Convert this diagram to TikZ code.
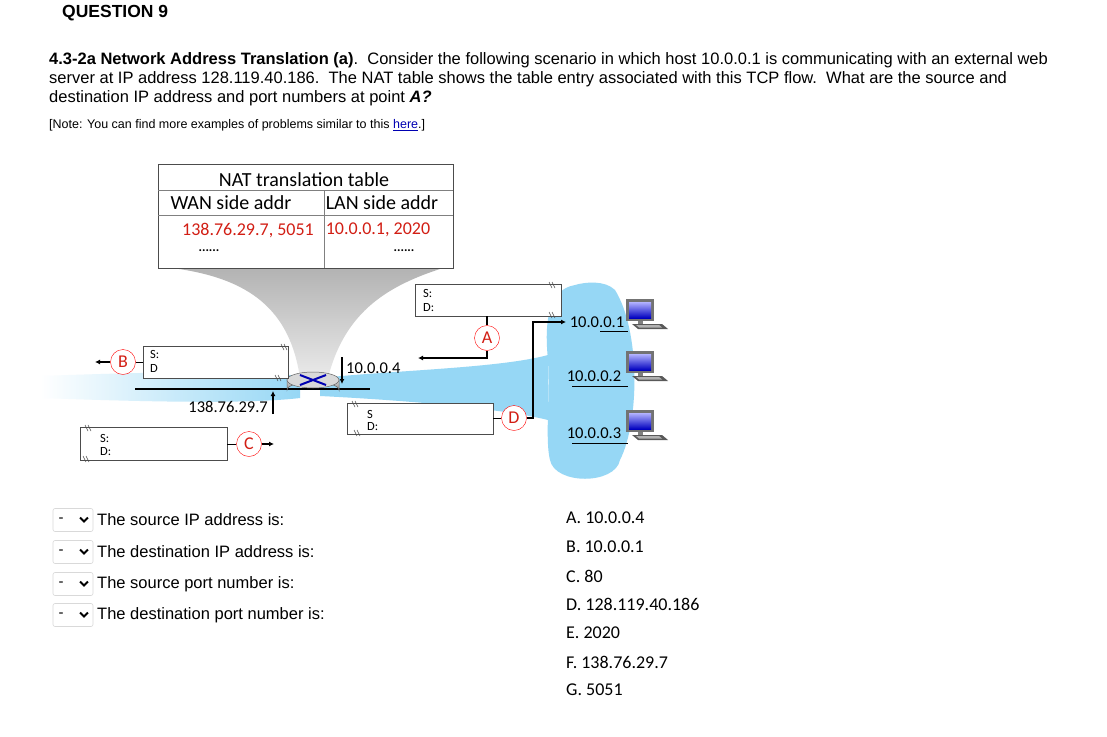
\documentclass[tikz,border=0pt]{standalone}
\usepackage{fontspec}
\setmainfont{Liberation Sans}
\newfontfamily\calfont{Carlito}
\usetikzlibrary{arrows.meta,shapes.geometric,calc}
\definecolor{natred}{RGB}{210,30,20}
\definecolor{lanblue}{RGB}{150,215,245}
\tikzset{
  pkt/.style={draw=black!70,line width=0.6pt,fill=white},
  lbl/.style={font=\calfont\fontsize{12.5}{13}\selectfont,anchor=west,inner sep=0pt},
  circ/.style={circle,draw=red,fill=white,text=natred,font=\calfont\fontsize{18}{18}\selectfont,minimum size=25pt,inner sep=0pt},
  wire/.style={line width=1.6pt},
  arr/.style={line width=1.6pt,-{Latex[length=5pt,width=5pt]}},
  ip/.style={font=\calfont\fontsize{16.5}{18}\selectfont,inner sep=1pt},
  qtxt/.style={font=\fontsize{16.5}{18}\selectfont,anchor=west,inner sep=0pt},
  ans/.style={font=\calfont\fontsize{18}{19}\selectfont,anchor=west,inner sep=0pt},
  sel/.style={draw=black!15,rounded corners=2pt,line width=0.6pt,minimum width=40pt,minimum height=23pt},
  para/.style={anchor=west,inner sep=0pt,font=\fontsize{16.5}{18}\selectfont},
  tab/.style={font=\calfont\fontsize{20}{21}\selectfont},
}
\newcommand{\brk}[1]{\draw[black!70,line width=0.5pt] ($(#1)+(-3,-3)$)--($(#1)+(0,3)$) ($(#1)+(0,-3)$)--($(#1)+(3,3)$);}
\newcommand{\pcicon}[1]{%
 \begin{scope}[shift={(#1)}]
  \fill[black!55] (-14,-16) rectangle (14,6);
  \shade[top color=blue!30,bottom color=blue!75!black] (-11,-13) rectangle (11,3);
  \fill[black!50] (-2,6) rectangle (3,10);
  \fill[black!65] (-8,9) -- (22,9) -- (28,14) -- (-2,14) -- cycle;
  \fill[black!30] (-4,10) -- (19,10) -- (22,12.5) -- (-1,12.5) -- cycle;
 \end{scope}}
\begin{document}
\begin{tikzpicture}[x=1pt,y=-1pt]
\useasboundingbox (0,0) rectangle (1107,736);
\fill[white] (0,0) rectangle (1107,736);
% header text
\node[anchor=west,inner sep=0pt,font=\bfseries\fontsize{17.5}{19}\selectfont] (qt) at (62,13) {QUESTION 9};
\node[para] (p1) at (49,60) {\textbf{4.3-2a Network Address Translation (a)}.\ \ Consider the following scenario in which host 10.0.0.1 is communicating with an external web};
\node[para] (p2) at (49,79) {server at IP address 128.119.40.186.\ \ The NAT table shows the table entry associated with this TCP flow.\ \ What are the source and};
\node[para] (p3) at (49,98) {destination IP address and port numbers at point \textbf{\textit{A?}}};
\node[anchor=west,inner sep=0pt,font=\fontsize{12.5}{13}\selectfont] (p4) at (49,125) {[Note: You can find more examples of problems similar to this \textcolor{blue!70!black}{\underline{here}}.]};
% gray funnel
\shade[top color=black!30,bottom color=black!8] (172,268) .. controls (250,278) and (290,310) .. (300,378) -- (328,378) .. controls (345,310) and (390,285) .. (443,268) -- cycle;
% blue regions
\shade[left color=white,right color=lanblue] (40,376) .. controls (150,372) and (250,370) .. (300,376) -- (300,398) .. controls (250,404) and (150,402) .. (40,398) -- cycle;
\fill[lanblue] (320,378) .. controls (400,370) and (500,368) .. (548,355) -- (548,420) .. controls (500,408) and (400,400) .. (320,396) -- cycle;
\fill[lanblue] (575,285) .. controls (545,290) and (545,330) .. (548,360) .. controls (550,400) and (545,440) .. (550,460) .. controls (555,485) and (615,485) .. (620,460) .. controls (640,420) and (640,330) .. (615,290) .. controls (605,280) and (585,282) .. (575,285) -- cycle;
% NAT table
\draw[black!70,line width=0.6pt,fill=white] (158,164) rectangle (453,268);
\draw[black!50,line width=0.5pt] (158,190) -- (453,190) (158,215) -- (453,215) (324,190) -- (324,268);
\node[tab] (tt) at (304,180) {NAT translation table};
\node[tab] (wan) at (231,203) {WAN side addr};
\node[tab] (lan) at (382,203) {LAN side addr};
\node[font=\calfont\fontsize{18}{19}\selectfont,text=natred] (r1) at (248,230) {138.76.29.7, 5051};
\node[font=\calfont\fontsize{18}{19}\selectfont,text=natred] (r2) at (378,230) {10.0.0.1, 2020};
\node[font=\calfont\bfseries\fontsize{13}{14}\selectfont] (d1) at (209,251) {......};
\node[font=\calfont\bfseries\fontsize{13}{14}\selectfont] (d2) at (404,251) {......};
% main wire
\draw[wire] (135,389) -- (370,389);
% router
\shade[bottom color=black!45,top color=black!15] (287,380) -- (287,390) arc[start angle=180,end angle=360,x radius=26,y radius=8] -- (339,380) -- cycle;
\draw[black!60,line width=0.5pt] (287,380) -- (287,390) arc[start angle=180,end angle=360,x radius=26,y radius=8] -- (339,380);
\draw[black!60,fill=black!15,line width=0.5pt] (313,380) ellipse[x radius=26,y radius=8];
\draw[blue!70!black,line width=2pt] (300,375) -- (326,385) (326,375) -- (300,385);
\coordinate (rt) at (313,385);
% box B
\draw[pkt] (143,346) rectangle (288,378);
\brk{284,347}\brk{278,378}
\node[lbl] (bs) at (150,354) {S:};
\node[lbl] (bd) at (150,368) {D};
\node[circ] (cb) at (123,362) {B};
\coordinate (be) at (95,362);
\draw[line width=0.8pt] (143,362) -- (cb);
\draw[arr] (cb) -- (be);
% 138.76.29.7
\node[ip,anchor=east] (wip) at (269,407) {138.76.29.7};
\coordinate (wa) at (273,414); \coordinate (wb) at (273,391);
\draw[arr] (wa) -- (wb);
% box C
\draw[pkt] (80,427) rectangle (227,460);
\brk{88,428}\brk{86,459}
\node[lbl] (cs) at (100,438) {S:};
\node[lbl] (cd) at (100,452) {D:};
\node[circ] (cc) at (249,444) {C};
\coordinate (ce) at (274,444);
\draw[line width=0.8pt] (227,444) -- (cc);
\draw[arr] (cc) -- (ce);
% 10.0.0.4
\node[ip,anchor=west] (lip) at (345,368) {10.0.0.4};
\coordinate (la) at (342,357); \coordinate (lb) at (342,384);
\draw[arr] (la) -- (lb);
% box lower right
\draw[pkt] (347,403) rectangle (493,434);
\brk{355,404}\brk{357,433}
\node[lbl] (ls) at (367,414) {S};
\node[lbl] (ld) at (367,427) {D:};
\node[circ] (cd2) at (514,418) {D};
\coordinate (dk) at (533,418); \coordinate (dt) at (533,322); \coordinate (de) at (566,322);
\draw[line width=0.8pt] (493,418) -- (cd2);
\draw[arr] (cd2) -- (dk) -- (dt) -- (de);
% box top
\draw[pkt] (415,284) rectangle (561,316);
\brk{552,285}\brk{552,315}
\node[lbl] (ts) at (423,293) {S:};
\node[lbl] (td) at (423,308) {D:};
\node[circ] (ca) at (487,338) {A};
\coordinate (ak) at (487,358); \coordinate (ae) at (418,358);
\draw[wire] (487,316) -- (ca);
\draw[arr] (ca) -- (ak) -- (ae);
% hosts
\pcicon{640,315}\pcicon{640,367}\pcicon{640,426}
\node[ip] (h1) at (597,322) {10.0.0.1};
\node[ip] (h2) at (594,376) {10.0.0.2};
\node[ip] (h3) at (594,433) {10.0.0.3};
\draw[line width=0.9pt] (572,386) -- (628,386) (572,443) -- (628,443) (600,331) -- (628,331);
% questions
\foreach \y/\t [count=\i] in {520/The source IP address is:,552/The destination IP address is:,584/The source port number is:,615/The destination port number is:}{
  \node[sel] (s\i) at (73,\y) {};
  \node[font=\fontsize{15}{16}\selectfont] (m\i) at (61,\y) {-};
  \draw[line width=1.8pt] (80,\y-2.5) -- (84,\y+1.5) -- (88,\y-2.5);
  \node[qtxt] (q\i) at (97,\y) {\t};
}
% answers
\node[ans] (a1) at (566,518) {A. 10.0.0.4};
\node[ans] (a2) at (566,547) {B. 10.0.0.1};
\node[ans] (a3) at (566,576) {C. 80};
\node[ans] (a4) at (566,604) {D. 128.119.40.186};
\node[ans] (a5) at (566,633) {E. 2020};
\node[ans] (a6) at (566,662) {F. 138.76.29.7};
\node[ans] (a7) at (566,690) {G. 5051};
\end{tikzpicture}
\end{document}
